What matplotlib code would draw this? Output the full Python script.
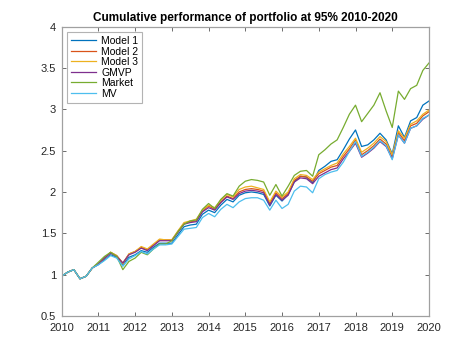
import matplotlib
matplotlib.use("Agg")
import matplotlib.pyplot as plt
import numpy as np

plt.rcParams['font.family'] = ['Liberation Sans', 'DejaVu Sans']

# bi-monthly observations, Jan 2010 .. Jan 2020
dates = 2010 + np.arange(61) / 6.0

model1 = [0.98, 1.03, 1.06, 0.95, 0.98, 1.08,
          1.12, 1.18, 1.24, 1.21, 1.12, 1.21,
          1.24, 1.29, 1.27, 1.33, 1.38, 1.38,
          1.38, 1.48, 1.58, 1.60, 1.61, 1.73,
          1.78, 1.75, 1.84, 1.91, 1.88, 1.96,
          1.99, 2.00, 1.99, 1.97, 1.83, 1.96,
          1.89, 1.97, 2.12, 2.19, 2.18, 2.11,
          2.26, 2.31, 2.37, 2.39, 2.51, 2.64,
          2.75, 2.55, 2.57, 2.63, 2.71, 2.63,
          2.46, 2.80, 2.66, 2.86, 2.90, 3.05,
          3.10]
model2 = [0.98, 1.03, 1.06, 0.95, 0.98, 1.08,
          1.13, 1.20, 1.27, 1.23, 1.14, 1.25,
          1.28, 1.33, 1.30, 1.36, 1.42, 1.42,
          1.42, 1.52, 1.62, 1.64, 1.65, 1.77,
          1.83, 1.79, 1.88, 1.95, 1.92, 2.00,
          2.03, 2.04, 2.03, 2.01, 1.86, 1.99,
          1.92, 1.98, 2.14, 2.19, 2.18, 2.13,
          2.22, 2.26, 2.30, 2.32, 2.43, 2.52,
          2.63, 2.45, 2.50, 2.56, 2.64, 2.58,
          2.42, 2.72, 2.62, 2.80, 2.83, 2.92,
          2.97]
model3 = [0.98, 1.03, 1.06, 0.95, 0.98, 1.08,
          1.13, 1.20, 1.27, 1.23, 1.13, 1.25,
          1.28, 1.34, 1.31, 1.37, 1.43, 1.42,
          1.42, 1.53, 1.63, 1.65, 1.67, 1.78,
          1.84, 1.81, 1.90, 1.97, 1.94, 2.03,
          2.06, 2.07, 2.05, 2.03, 1.88, 2.01,
          1.94, 2.00, 2.16, 2.21, 2.20, 2.15,
          2.24, 2.28, 2.32, 2.35, 2.46, 2.55,
          2.65, 2.48, 2.53, 2.59, 2.67, 2.61,
          2.45, 2.74, 2.65, 2.82, 2.86, 2.94,
          2.99]
gmvp = [0.98, 1.03, 1.06, 0.95, 0.98, 1.08,
        1.13, 1.20, 1.26, 1.22, 1.14, 1.24,
        1.27, 1.32, 1.29, 1.35, 1.41, 1.41,
        1.41, 1.51, 1.61, 1.63, 1.64, 1.76,
        1.81, 1.78, 1.87, 1.94, 1.91, 1.98,
        2.01, 2.02, 2.01, 1.99, 1.84, 1.97,
        1.90, 1.96, 2.12, 2.17, 2.16, 2.10,
        2.19, 2.23, 2.27, 2.29, 2.40, 2.49,
        2.59, 2.42, 2.47, 2.53, 2.61, 2.55,
        2.40, 2.69, 2.59, 2.77, 2.80, 2.88,
        2.93]
market = [0.98, 1.03, 1.06, 0.95, 0.98, 1.08,
          1.15, 1.22, 1.27, 1.22, 1.06, 1.16,
          1.20, 1.27, 1.24, 1.31, 1.37, 1.37,
          1.41, 1.52, 1.61, 1.65, 1.66, 1.79,
          1.86, 1.80, 1.91, 1.98, 1.95, 2.07,
          2.13, 2.15, 2.14, 2.12, 1.96, 2.09,
          1.95, 2.07, 2.20, 2.25, 2.26, 2.19,
          2.45, 2.51, 2.58, 2.63, 2.78, 2.94,
          3.05, 2.85, 2.95, 3.05, 3.20, 2.98,
          2.78, 3.22, 3.12, 3.25, 3.29, 3.47,
          3.56]
mv = [0.98, 1.03, 1.06, 0.95, 0.98, 1.08,
      1.12, 1.17, 1.23, 1.20, 1.10, 1.19,
      1.23, 1.28, 1.25, 1.31, 1.36, 1.36,
      1.37, 1.46, 1.55, 1.56, 1.57, 1.69,
      1.74, 1.70, 1.79, 1.85, 1.81, 1.88,
      1.92, 1.93, 1.93, 1.90, 1.78, 1.90,
      1.80, 1.85, 2.01, 2.07, 2.06, 1.99,
      2.16, 2.21, 2.24, 2.26, 2.36, 2.49,
      2.61, 2.43, 2.48, 2.54, 2.62, 2.56,
      2.39, 2.69, 2.59, 2.77, 2.80, 2.89,
      2.93]

names = ['Model 1', 'Model 2', 'Model 3', 'GMVP', 'Market', 'MV']
series = [model1, model2, model3, gmvp, market, mv]
colors = ['#0072BD', '#D95319', '#EDB120', '#7E2F8E', '#77AC30', '#4DBEEE']

fig = plt.figure(figsize=(4.74, 3.55), dpi=100)
ax = fig.add_axes([0.13, 0.11, 0.775, 0.815])

for name, vals, c in zip(names, series, colors):
    ax.plot(dates, vals, color=c, lw=0.9, label=name)

ax.set_xlim(2010, 2020)
ax.set_ylim(0.5, 4)
ax.set_xticks(range(2010, 2021))
ax.set_yticks(np.arange(0.5, 4.01, 0.5))
ax.set_yticklabels(['0.5', '1', '1.5', '2', '2.5', '3', '3.5', '4'])
ax.tick_params(direction='in', top=True, right=True, length=3, width=0.6,
               color='#555555', labelsize=8, labelcolor='#262626')
ax.tick_params(axis='x', pad=5)
ax.tick_params(axis='y', pad=4)
for s in ax.spines.values():
    s.set_color('#a0a0a0')
    s.set_linewidth(0.9)

ax.set_title('Cumulative performance of portfolio at 95% 2010-2020',
             fontsize=8.5, fontweight='bold', pad=4)

leg = ax.legend(loc='upper left', fontsize=7.5, frameon=True, fancybox=False,
                handlelength=2.4, handletextpad=0.5, labelspacing=0.05,
                borderpad=0.4, borderaxespad=0.5)
leg.get_frame().set_edgecolor('#a0a0a0')
leg.get_frame().set_linewidth(0.8)

fig.savefig('out.png', dpi=100)
